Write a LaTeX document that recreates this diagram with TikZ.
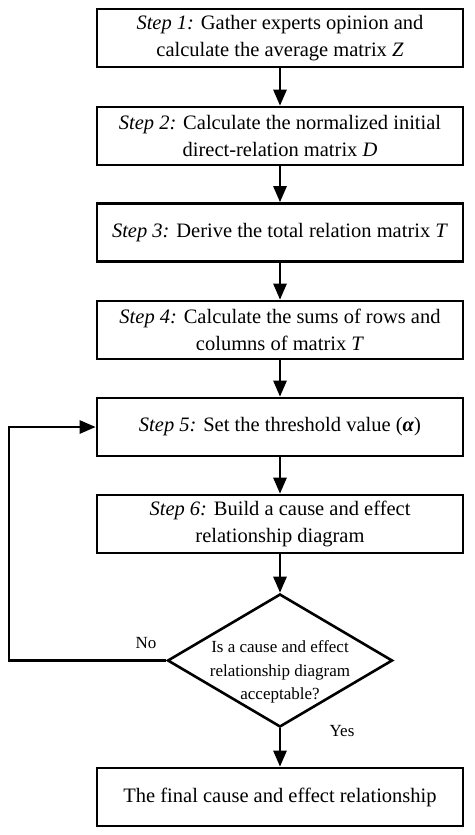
\documentclass[tikz,border=0pt]{standalone}
\usepackage{fontspec}
\setmainfont{Liberation Serif}
\usetikzlibrary{arrows.meta,shapes.geometric}
\begin{document}
\begin{tikzpicture}[x=1pt,y=-1pt,
  stepbox/.style={draw,line width=2.6pt,minimum width=366pt,minimum height=58pt,align=center,font=\fontsize{20.5}{26.5}\selectfont,inner sep=0pt},
  decide/.style={draw,line width=2.6pt,diamond,minimum width=225pt,minimum height=133pt,align=center,inner sep=0pt},
  flow/.style={line width=2.6pt,-{Triangle[length=16pt,width=13pt]}},
  lbl/.style={font=\fontsize{17}{20}\selectfont}]
\useasboundingbox (0,0) rectangle (474,835);
\node[stepbox] (s1) at (280,38) {\textit{Step 1:} Gather experts opinion and\\calculate the average matrix \textit{Z}};
\node[stepbox] (s2) at (280,136) {\textit{Step 2:} Calculate the normalized initial\\direct-relation matrix \textit{D}};
\node[stepbox] (s3) at (280,232.5) {\textit{Step 3:} Derive the total relation matrix \textit{T}};
\node[stepbox] (s4) at (280,330) {\textit{Step 4:} Calculate the sums of rows and\\columns of matrix \textit{T}};
\node[stepbox] (s5) at (280,427) {\textit{Step 5:} Set the threshold value (\textbf{\textit{α}})};
\node[stepbox] (s6) at (280,524) {\textit{Step 6:} Build a cause and effect\\relationship diagram};
\node[decide,shape aspect=1.7] (d) at (280,660.5) {};
\node[font=\fontsize{17}{23.5}\selectfont,align=center] (dt) at (280,672) {Is a cause and effect\\relationship diagram\\acceptable?};
\node[stepbox] (fin) at (280,797) {The final cause and effect relationship};
\coordinate (c1) at (9,660.5);
\coordinate (c2) at (9,427);
\draw[flow] (s1) -- (s2);
\draw[flow] (s2) -- (s3);
\draw[flow] (s3) -- (s4);
\draw[flow] (s4) -- (s5);
\draw[flow] (s5) -- (s6);
\draw[flow] (s6) -- (d.north);
\draw[flow] (d.south) -- (fin);
\draw[flow] (d.west) -- (c1) -- (c2) -- (s5.west);
\node[lbl] (no) at (146,643) {No};
\node[lbl] (yes) at (342,731) {Yes};
\end{tikzpicture}
\end{document}
